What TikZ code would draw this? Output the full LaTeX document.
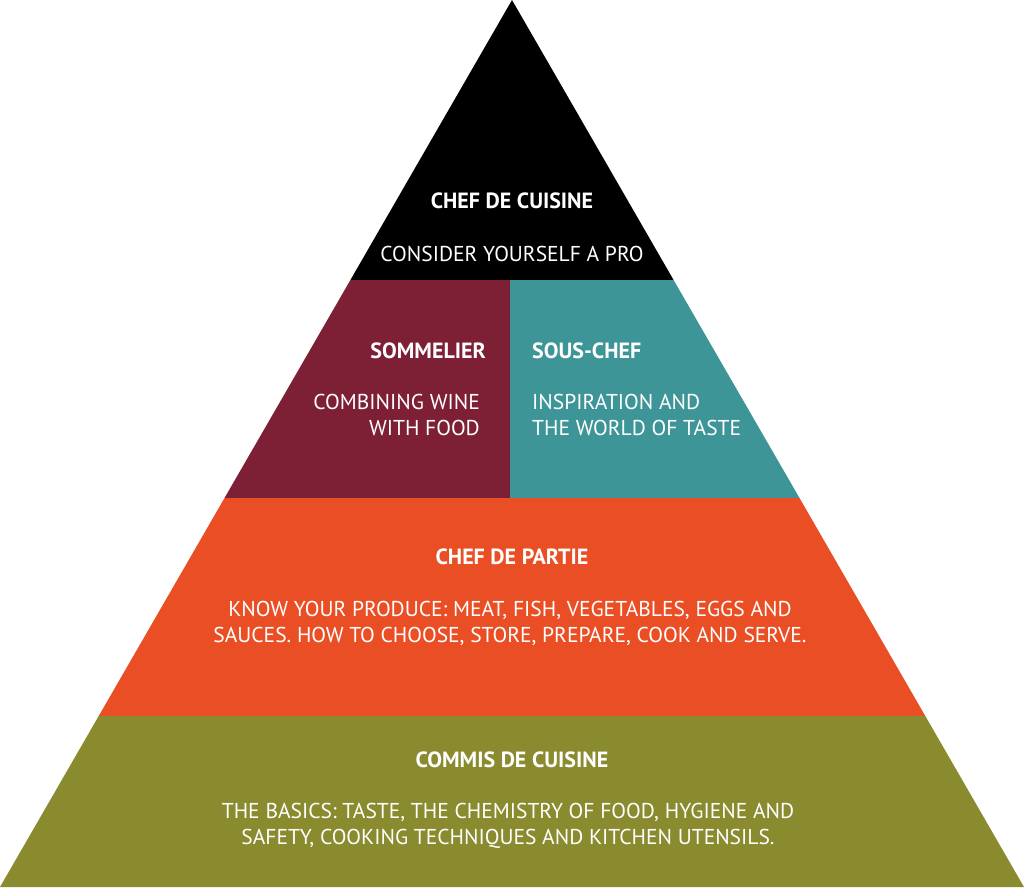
\documentclass[tikz,border=0pt]{standalone}
\usepackage{fontspec}
\setmainfont{PT Sans}
\begin{document}
\begin{tikzpicture}[x=1pt,y=-1pt,
  title/.style={text=white,font=\bfseries\fontsize{22}{26}\selectfont,inner sep=0pt,anchor=base},
  body/.style={text=white,font=\fontsize{21.5}{26}\selectfont,inner sep=0pt,anchor=base}]
\definecolor{cblack}{HTML}{000000}
\definecolor{cmaroon}{HTML}{7D1F35}
\definecolor{cteal}{HTML}{3E9598}
\definecolor{corange}{HTML}{E94E24}
\definecolor{colive}{HTML}{8A8A2E}
\useasboundingbox (0,0) rectangle (1024,887);
\fill[cblack] (512,0) -- (673.6,280) -- (350.4,280) -- cycle;
\fill[cmaroon] (350.4,280) -- (510,280) -- (510,498) -- (224.5,498) -- cycle;
\fill[cteal] (510,280) -- (673.6,280) -- (799.5,498) -- (510,498) -- cycle;
\fill[corange] (224.5,498) -- (799.5,498) -- (925.3,716) -- (98.7,716) -- cycle;
\fill[colive] (98.7,716) -- (925.3,716) -- (1024,887) -- (0,887) -- cycle;
\node[title] (t1) at (512,208) {CHEF DE CUISINE};
\node[body] (b1) at (512,261) {CONSIDER YOURSELF A PRO};
\node[title,anchor=base east] (t2) at (486,358) {SOMMELIER};
\node[body,anchor=base east,align=right] (b2) at (480,435) {COMBINING WINE\\WITH FOOD};
\node[title,anchor=base west] (t3) at (532,358) {SOUS-CHEF};
\node[body,anchor=base west,align=left] (b3) at (532,435) {INSPIRATION AND\\THE WORLD OF TASTE};
\node[title] (t4) at (512,564) {CHEF DE PARTIE};
\node[body,align=center] (b4) at (510,642) {KNOW YOUR PRODUCE: MEAT, FISH, VEGETABLES, EGGS AND\\SAUCES. HOW TO CHOOSE, STORE, PREPARE, COOK AND SERVE.};
\node[title] (t5) at (512,767) {COMMIS DE CUISINE};
\node[body,align=center] (b5) at (508,844) {THE BASICS: TASTE, THE CHEMISTRY OF FOOD, HYGIENE AND\\SAFETY, COOKING TECHNIQUES AND KITCHEN UTENSILS.};
\end{tikzpicture}
\end{document}
